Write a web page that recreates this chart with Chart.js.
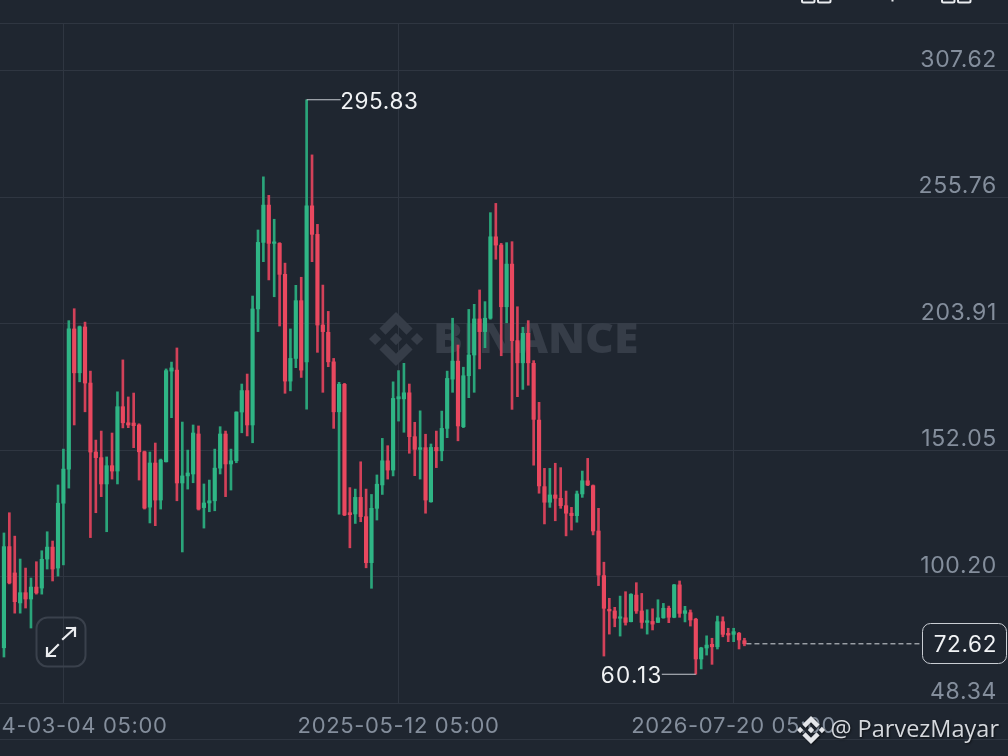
<!DOCTYPE html>
<html><head><meta charset="utf-8">
<style>html,body{margin:0;padding:0;background:#1f2630;overflow:hidden}canvas{display:block}</style>
<script src="https://cdn.jsdelivr.net/npm/chart.js@4"></script>
</head><body><canvas id="c" width="1008" height="756"></canvas>
<script>
const opens=[71.0,112.5,101.7,89.4,93.6,91.0,95.9,95.5,107.4,112.3,103.7,130.3,144.3,201.8,183.8,202.6,179.6,151.3,149.0,138.2,145.7,143.5,169.9,163.3,163.2,162.4,151.4,128.7,146.8,131.6,147.3,184.5,184.9,138.6,141.5,142.3,158.7,128.5,130.4,131.3,144.7,158.7,146.4,147.7,167.7,176.5,162.4,210.0,237.3,252.6,236.9,236.9,224.2,180.4,189.7,213.4,188.3,252.3,240.6,203.4,200.4,188.3,167.8,179.1,126.4,125.9,132.7,124.8,105.9,128.2,137.8,147.7,143.9,173.1,173.1,175.6,157.6,152.4,153.1,130.9,153.2,151.8,161.0,181.2,188.6,161.7,182.6,191.1,205.9,200.7,206.2,239.6,236.2,210.9,228.4,197.0,187.9,200.0,187.7,164.4,137.1,130.7,133.7,132.3,129.3,126.2,125.2,134.1,139.5,137.5,118.9,100.6,86.8,86.1,83.1,83.3,81.7,92.6,86.1,81.4,81.8,81.4,83.3,87.2,83.5,96.8,85.1,85.4,82.7,66.4,70.9,72.4,71.4,81.7,76.9,76.5,76.9,73.9];
const highs=[118.1,126.4,116.8,107.4,103.7,99.6,106.3,110.8,118.6,114.8,137.8,152.5,205.2,210.1,203.0,204.6,184.5,156.2,159.9,149.3,159.1,176.0,189.1,173.9,175.5,162.9,151.7,151.3,155.0,148.4,185.4,188.2,194.0,163.6,152.1,162.4,162.0,138.2,139.8,152.5,161.7,159.9,152.5,167.8,179.2,183.3,215.3,242.4,264.2,256.6,246.8,237.2,228.8,201.8,219.7,223.0,295.83,273.2,244.7,219.8,209.0,189.7,179.9,179.5,136.7,136.1,147.3,136.1,133.9,141.9,156.9,153.9,180.1,184.7,187.7,179.2,163.5,168.2,158.6,154.6,159.9,168.1,184.5,206.2,195.2,186.1,209.8,211.9,217.8,213.0,249.5,253.3,236.9,237.2,237.6,210.9,202.5,205.2,188.8,171.7,144.6,144.6,146.7,144.9,135.3,128.6,135.3,143.5,148.7,137.8,128.2,106.1,91.3,87.6,92.2,94.0,93.2,97.7,93.3,86.6,87.0,90.7,89.2,88.1,97.0,98.4,88.0,86.5,83.1,71.2,75.9,74.9,84.0,83.7,79.0,79.0,77.3,74.9];
const lows=[67.2,97.2,85.2,85.2,87.3,79.1,93.0,93.0,103.3,98.4,100.4,105.0,136.5,162.4,180.1,167.8,116.2,126.4,133.0,118.6,140.2,138.2,161.2,161.3,153.1,139.8,127.9,122.2,121.1,127.9,147.2,165.4,131.3,110.3,136.1,138.7,127.5,120.1,126.8,127.2,142.3,133.0,135.7,146.9,159.2,157.9,155.1,200.7,229.4,221.9,215.0,203.0,175.4,176.4,185.9,181.9,168.9,229.4,192.2,175.8,186.3,161.0,125.8,125.2,112.0,122.0,122.7,103.8,95.4,123.4,133.9,140.2,141.5,164.0,159.4,150.8,141.6,140.2,126.2,130.7,144.9,147.7,157.2,175.8,155.9,161.3,173.6,175.8,185.4,194.1,205.8,230.4,190.8,204.3,168.8,174.0,177.0,178.7,145.9,134.4,121.8,128.6,123.1,128.2,116.9,119.3,122.5,132.7,137.5,117.3,96.5,67.6,76.6,79.6,75.8,80.3,81.6,85.1,79.0,76.6,78.3,81.3,83.1,81.3,83.3,83.5,81.6,79.9,60.13,62.3,68.0,64.2,70.5,75.5,73.5,73.5,70.5,71.8];
const closes=[112.5,97.6,89.9,93.6,91.0,95.9,93.5,107.3,112.3,103.3,130.3,144.3,201.8,183.8,202.7,179.6,151.3,149.0,138.2,145.7,143.5,169.9,163.3,162.4,162.1,151.4,128.3,146.8,131.6,148.0,184.7,185.8,138.6,141.5,142.7,159.1,127.9,130.4,131.3,144.7,158.7,146.4,147.7,167.7,176.5,162.4,210.0,237.3,252.6,236.9,237.3,224.2,180.4,189.7,213.4,184.9,252.3,240.6,203.4,200.7,188.3,167.8,179.1,125.5,125.6,132.7,124.8,105.9,128.2,138.1,147.7,143.9,173.3,174.0,175.6,157.6,152.4,153.1,131.6,153.2,151.8,161.0,181.5,188.6,162.0,182.6,191.1,205.9,200.7,206.2,239.6,236.2,210.9,228.4,197.0,187.9,200.0,187.9,164.7,137.4,130.7,133.7,132.3,129.3,126.2,125.2,134.1,139.5,137.8,118.9,100.8,87.2,86.1,83.1,83.3,81.4,92.9,86.1,81.4,82.1,80.7,83.3,87.2,83.5,96.8,85.1,86.2,82.4,66.4,70.9,72.1,71.4,81.7,76.5,76.2,77.6,74.2,72.62];
const tickWeeks=[11,73,135];
const tickDates=['2024-03-04 05:00','2025-05-12 05:00','2026-07-20 05:00'];
const priceTicks=[48.34,100.20,152.05,203.91,255.76,307.62];
const lastPrice=72.62;
const peakLabel=295.83;
const troughLabel=60.13;

const BG='#1f2630',GRID='#2f3641',GREEN='#2fb585',RED='#e9485f',TXT='#848e9c';
const WICK_GREEN='#2aa57a',WICK_RED='#d34159';
const FONT='Inter, sans-serif';
const TRACK='0.65px';
const weeks=closes.map((_,i)=>i);
const colors=closes.map((c,i)=>c>=opens[i]?GREEN:RED);
const wickColors=closes.map((c,i)=>c>=opens[i]?WICK_GREEN:WICK_RED);

const LOGO=[
 'M38.73 53.2l24.59-24.58 24.6 24.6 14.3-14.31L63.32 0 24.42 38.9z',
 'M0 63.31l14.3-14.31 14.31 14.31-14.31 14.3z',
 'M38.73 73.41l24.59 24.59 24.6-24.6 14.31 14.29L63.32 126.61 24.42 87.73z',
 'M98.28 63.31l14.3-14.31 14.31 14.3-14.3 14.31z',
 'M77.83 63.3L63.32 48.78 48.81 63.28 63.32 77.81z'];
function logo(ctx,cx,cy,size,color){
  ctx.save();ctx.translate(cx-size/2,cy-size/2);ctx.scale(size/126.61,size/126.61);
  ctx.fillStyle=color;LOGO.forEach(p=>ctx.fill(new Path2D(p)));ctx.restore();
}
function rr(ctx,x,y,w,h,r){ctx.beginPath();ctx.roundRect(x,y,w,h,r);}

const decor={
 id:'decor',
 beforeDraw(ch){
  const c=ch.ctx;c.save();
  c.fillStyle=BG;c.fillRect(0,0,1008,756);
  c.strokeStyle=GRID;c.lineWidth=1;
  [23.5,739.5].forEach(y=>{c.beginPath();c.moveTo(0,y);c.lineTo(1008,y);c.stroke();});
  // top icons
  c.strokeStyle='#eaecef';c.lineWidth=2;
  [802,818,942,958].forEach(x=>{rr(c,x,-8,12.5,10.5,1.5);c.stroke();});
  c.fillStyle='#eaecef';c.fillRect(891.5,0,2,1.5);
  c.restore();
  ch.ctx.letterSpacing=TRACK;
 },
 beforeDatasetsDraw(ch){
  const c=ch.ctx;c.save();c.letterSpacing='0px';
  // watermark
  logo(c,396,339,54,'#363d48');
  c.fillStyle='#363d48';c.textAlign='left';c.textBaseline='middle';
  c.translate(433,340);c.scale(1.06,1);c.font='800 42px "Open Sans", sans-serif';c.fillText('BINANCE',0,1);
  c.restore();
 },
 afterDraw(ch){
  const c=ch.ctx,xs=ch.scales.x,ys=ch.scales.y;c.save();
  // min and max callouts
  const hi=highs.indexOf(peakLabel),lo=lows.indexOf(troughLabel);
  c.font='22.5px '+FONT;c.textBaseline='middle';
  c.strokeStyle='#c4c8ce';c.lineWidth=1.2;
  let px=xs.getPixelForValue(hi),py=ys.getPixelForValue(peakLabel);
  c.beginPath();c.moveTo(px,py);c.lineTo(px+34,py);c.stroke();
  c.fillStyle='#f1f3f5';c.textAlign='left';c.fillText(peakLabel.toFixed(2),px+33.5,py+2.5);
  px=xs.getPixelForValue(lo);py=ys.getPixelForValue(troughLabel);
  c.beginPath();c.moveTo(px,py);c.lineTo(px-34,py);c.stroke();
  c.save();c.letterSpacing='1.4px';c.textAlign='right';c.fillText(troughLabel.toFixed(2),px-33,py+1.5);c.restore();
  // last price
  px=xs.getPixelForValue(weeks[weeks.length-1]);py=ys.getPixelForValue(lastPrice);
  c.strokeStyle='#d3d6db';c.lineWidth=1;c.setLineDash([5,3]);
  c.beginPath();c.moveTo(px+2,py);c.lineTo(922,py);c.stroke();c.setLineDash([]);
  rr(c,922.5,623.5,84,40,8);c.fillStyle=BG;c.fill();c.strokeStyle='#c9cdd3';c.lineWidth=1;c.stroke();
  c.fillStyle='#f1f3f5';c.textAlign='right';c.fillText(lastPrice.toFixed(2),997,645);
  // expand button
  rr(c,36.5,617.5,49,49,11);c.strokeStyle='#3a414c';c.lineWidth=2;c.stroke();
  c.strokeStyle='#eaecef';c.lineWidth=2.2;c.lineCap='square';
  [[63,639,75,628,67,628,75,636],[58,645,47,656,47,648,55,656]].forEach(a=>{
    c.beginPath();c.moveTo(a[0],a[1]);c.lineTo(a[2],a[3]);c.moveTo(a[4],a[5]);c.lineTo(a[2],a[3]);c.lineTo(a[6],a[7]);c.stroke();
  });
  // footer mark
  c.letterSpacing='0px';
  c.shadowColor='rgba(0,0,0,0.55)';c.shadowBlur=2;c.shadowOffsetX=1;c.shadowOffsetY=1;
  logo(c,811,730,28,'#e4e6ea');
  c.fillStyle='#d5d8dd';c.font='23.5px "Open Sans", sans-serif';c.textAlign='right';c.textBaseline='middle';
  c.fillText('@ ParvezMayar',999,730);
  c.restore();
 }
};

new Chart(document.getElementById('c'),{
 type:'bar',
 data:{datasets:[
  {data:weeks.map(i=>({x:i,y:[lows[i],highs[i]]})),backgroundColor:wickColors,barThickness:2,grouped:false,order:2},
  {data:weeks.map(i=>({x:i,y:[opens[i],closes[i]]})),backgroundColor:colors,barThickness:3.5,grouped:false,order:1,minBarLength:1.5}
 ]},
 plugins:[decor],
 options:{
  responsive:false,animation:false,devicePixelRatio:1,
  layout:{padding:{top:23,left:0,right:0,bottom:0}},
  plugins:{legend:{display:false},tooltip:{enabled:false}},
  scales:{
   x:{type:'linear',offset:false,min:-0.73,max:185.76,
    grid:{offset:false,color:GRID,drawTicks:false,lineWidth:1},
    border:{display:false},
    afterBuildTicks:s=>{s.ticks=tickWeeks.map(v=>({value:v}));},
    afterFit:s=>{s.height=53;s.paddingLeft=0;s.paddingRight=0;},
    ticks:{autoSkip:false,maxRotation:0,minRotation:0,padding:10,color:TXT,font:{family:FONT,size:22},
     callback:v=>tickDates[tickWeeks.indexOf(v)]}
   },
   y:{position:'right',min:48.34,max:327.31,
    grid:{color:GRID,drawTicks:false,lineWidth:1},
    border:{display:false},
    afterBuildTicks:s=>{s.ticks=priceTicks.map(v=>({value:v}));},
    afterFit:s=>{s.width=0;s.paddingTop=0;s.paddingBottom=0;},
    ticks:{mirror:true,padding:-11,labelOffset:-11,color:TXT,font:{family:FONT,size:23},
     callback:v=>v.toFixed(2)}
   }
  }
 }
});
</script></body></html>
